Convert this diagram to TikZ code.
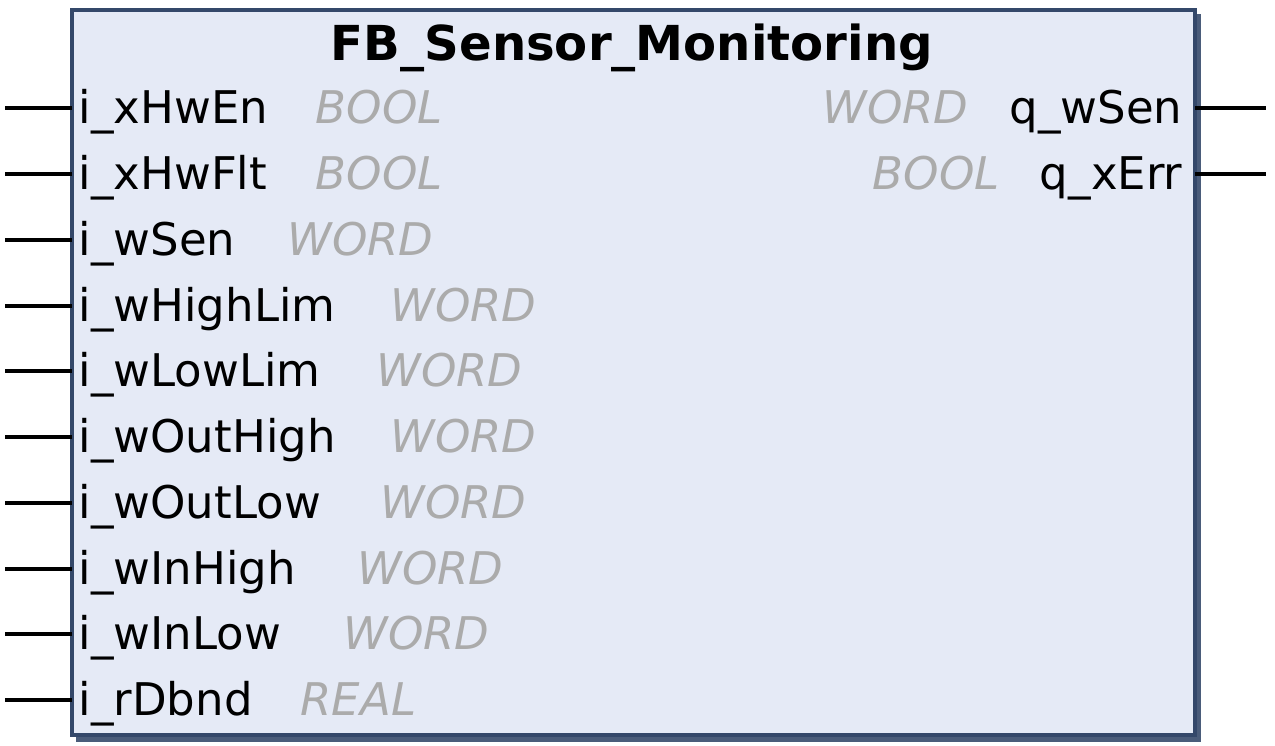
\documentclass[tikz,border=0pt]{standalone}
\usepackage{fontspec}
\setmainfont{DejaVu Sans}

\definecolor{fbfill}{HTML}{E5EAF6}
\definecolor{fbframe}{HTML}{34486A}
\definecolor{fbshadow}{HTML}{4A5C7A}
\definecolor{typegray}{HTML}{ABABAB}

\begin{document}
\begin{tikzpicture}[x=0.01cm, y=-0.01cm,
        every node/.style={inner sep=0pt, font=\fontsize{12.8}{15}\selectfont},
        pinname/.style={anchor=base west, text=black},
        outname/.style={anchor=base east, text=black},
        vartype/.style={anchor=base west, text=typegray,
            font=\fontsize{12.8}{15}\selectfont\itshape},
        pinline/.style={draw=black, line width=0.9pt}]
        \useasboundingbox (0,0) rectangle (1275,745);

        % block frame
        \coordinate (fbnw) at (72,10);
        \coordinate (fbse) at (1195,735);
        \fill[fbshadow] (76,14) rectangle (1201,742);
        \draw[fbframe, fill=fbfill, line width=1pt] (fbnw) rectangle (fbse);

        \node[anchor=base, font=\fontsize{13.7}{16}\selectfont\bfseries] (title) at (632,60) {FB\_Sensor\_Monitoring};

        % inputs
        \node[pinname] (xHwEn)    at (78,123) {i\_xHwEn};
        \node[pinname] (xHwFlt)   at (78,189) {i\_xHwFlt};
        \node[pinname] (wSen)     at (78,255) {i\_wSen};
        \node[pinname] (wHighLim) at (78,321) {i\_wHighLim};
        \node[pinname] (wLowLim)  at (78,386) {i\_wLowLim};
        \node[pinname] (wOutHigh) at (78,452) {i\_wOutHigh};
        \node[pinname] (wOutLow)  at (78,518) {i\_wOutLow};
        \node[pinname] (wInHigh)  at (78,584) {i\_wInHigh};
        \node[pinname] (wInLow)   at (78,649) {i\_wInLow};
        \node[pinname] (rDbnd)    at (78,715) {i\_rDbnd};

        \node[vartype] (xHwEnT)    at (315,123) {BOOL};
        \node[vartype] (xHwFltT)   at (315,189) {BOOL};
        \node[vartype] (wSenT)     at (287,255) {WORD};
        \node[vartype] (wHighLimT) at (390,321) {WORD};
        \node[vartype] (wLowLimT)  at (376,386) {WORD};
        \node[vartype] (wOutHighT) at (390,452) {WORD};
        \node[vartype] (wOutLowT)  at (380,518) {WORD};
        \node[vartype] (wInHighT)  at (357,584) {WORD};
        \node[vartype] (wInLowT)   at (343,649) {WORD};
        \node[vartype] (rDbndT)    at (300,715) {REAL};

        % outputs
        \node[outname] (qwSen) at (1183,123) {q\_wSen};
        \node[outname] (qxErr) at (1183,189) {q\_xErr};
        \node[vartype] (qwSenT) at (822,123) {WORD};
        \node[vartype] (qxErrT) at (872,189) {BOOL};

        % pins
        \coordinate (xHwEnP)    at (5,108);
        \coordinate (xHwFltP)   at (5,174);
        \coordinate (wSenP)     at (5,240);
        \coordinate (wHighLimP) at (5,306);
        \coordinate (wLowLimP)  at (5,371);
        \coordinate (wOutHighP) at (5,437);
        \coordinate (wOutLowP)  at (5,503);
        \coordinate (wInHighP)  at (5,569);
        \coordinate (wInLowP)   at (5,634);
        \coordinate (rDbndP)    at (5,700);
        \coordinate (qwSenP)    at (1266,108);
        \coordinate (qxErrP)    at (1266,174);

        \foreach \p in {xHwEnP, xHwFltP, wSenP, wHighLimP, wLowLimP,
                        wOutHighP, wOutLowP, wInHighP, wInLowP, rDbndP}
            \draw[pinline] (\p) -- (\p -| fbnw);
        \foreach \p in {qwSenP, qxErrP}
            \draw[pinline] (\p -| fbse) -- (\p);
    \end{tikzpicture}
\end{document}
